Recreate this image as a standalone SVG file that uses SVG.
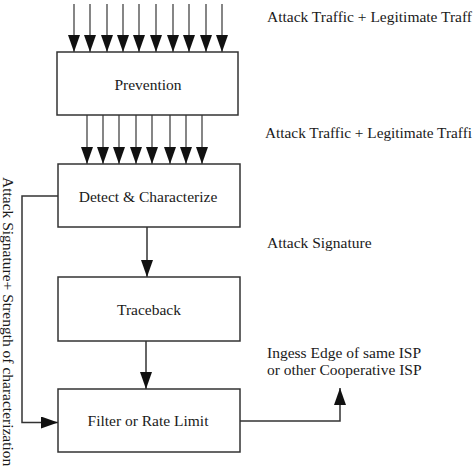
<svg xmlns="http://www.w3.org/2000/svg" width="474" height="474" viewBox="0 0 474 474">
<defs>
<marker id="ah" markerUnits="userSpaceOnUse" markerWidth="17" markerHeight="12" refX="17" refY="6" orient="auto">
<path d="M0,0 L17,6 L0,12 Z" fill="#111"/>
</marker>
<style>
.box{fill:#fff;stroke:#333;stroke-width:1.5}
.lbl{font-family:"Liberation Serif","Times New Roman",serif;font-size:15.5px;fill:#1a1a1a}
.mid{text-anchor:middle}
.ln{fill:none;stroke:#333;stroke-width:1.5}
.thin{fill:none;stroke:#444;stroke-width:1.3}
</style>
</defs>
<rect width="474" height="474" fill="#fff"/>
<g id="connectors">
<g class="thin" marker-end="url(#ah)">
<line x1="74" y1="4" x2="74" y2="52"/>
<line x1="90" y1="4" x2="90" y2="52"/>
<line x1="107" y1="4" x2="107" y2="52"/>
<line x1="123" y1="4" x2="123" y2="52"/>
<line x1="139" y1="4" x2="139" y2="52"/>
<line x1="156" y1="4" x2="156" y2="52"/>
<line x1="173" y1="4" x2="173" y2="52"/>
<line x1="189" y1="4" x2="189" y2="52"/>
<line x1="206" y1="4" x2="206" y2="52"/>
<line x1="222" y1="4" x2="222" y2="52"/>
</g>
<g class="thin" marker-end="url(#ah)">
<line x1="87" y1="115" x2="87" y2="164"/>
<line x1="103" y1="115" x2="103" y2="164"/>
<line x1="119" y1="115" x2="119" y2="164"/>
<line x1="136" y1="115" x2="136" y2="164"/>
<line x1="152" y1="115" x2="152" y2="164"/>
<line x1="170" y1="115" x2="170" y2="164"/>
<line x1="186" y1="115" x2="186" y2="164"/>
<line x1="202" y1="115" x2="202" y2="164"/>
</g>
<line class="ln" x1="147" y1="227" x2="147" y2="277" marker-end="url(#ah)"/>
<line class="ln" x1="146" y1="341" x2="146" y2="389" marker-end="url(#ah)"/>
<polyline class="ln" points="58,196 22,196 22,422.5 58,422.5" marker-end="url(#ah)"/>
<polyline class="ln" points="240,421 340,421 340,388" marker-end="url(#ah)"/>
</g>
<g id="prevention">
<rect class="box" x="57" y="52" width="181" height="63"/>
<text class="lbl mid" x="148" y="90">Prevention</text>
</g>
<g id="detect">
<rect class="box" x="58" y="164" width="182" height="63"/>
<text class="lbl mid" x="148" y="201.5">Detect &amp; Characterize</text>
</g>
<g id="traceback">
<rect class="box" x="58" y="277" width="182" height="64"/>
<text class="lbl mid" x="149" y="315">Traceback</text>
</g>
<g id="filter">
<rect class="box" x="58" y="389" width="182" height="63"/>
<text class="lbl mid" x="148" y="426">Filter or Rate Limit</text>
</g>
<g id="labels">
<text class="lbl" x="267" y="21.5" textLength="205" lengthAdjust="spacingAndGlyphs">Attack Traffic + Legitimate Traff</text>
<text class="lbl" x="265" y="138" textLength="207" lengthAdjust="spacingAndGlyphs">Attack Traffic + Legitimate Traffi</text>
<text class="lbl" x="267" y="248">Attack Signature</text>
<text class="lbl" x="267" y="357.5">Ingess Edge of same ISP</text>
<text class="lbl" x="267" y="374.5">or other Cooperative ISP</text>
<text class="lbl" transform="translate(2.5,177) rotate(90)" x="0" y="0">Attack Signature+ Strength of characterization</text>
</g>
</svg>
